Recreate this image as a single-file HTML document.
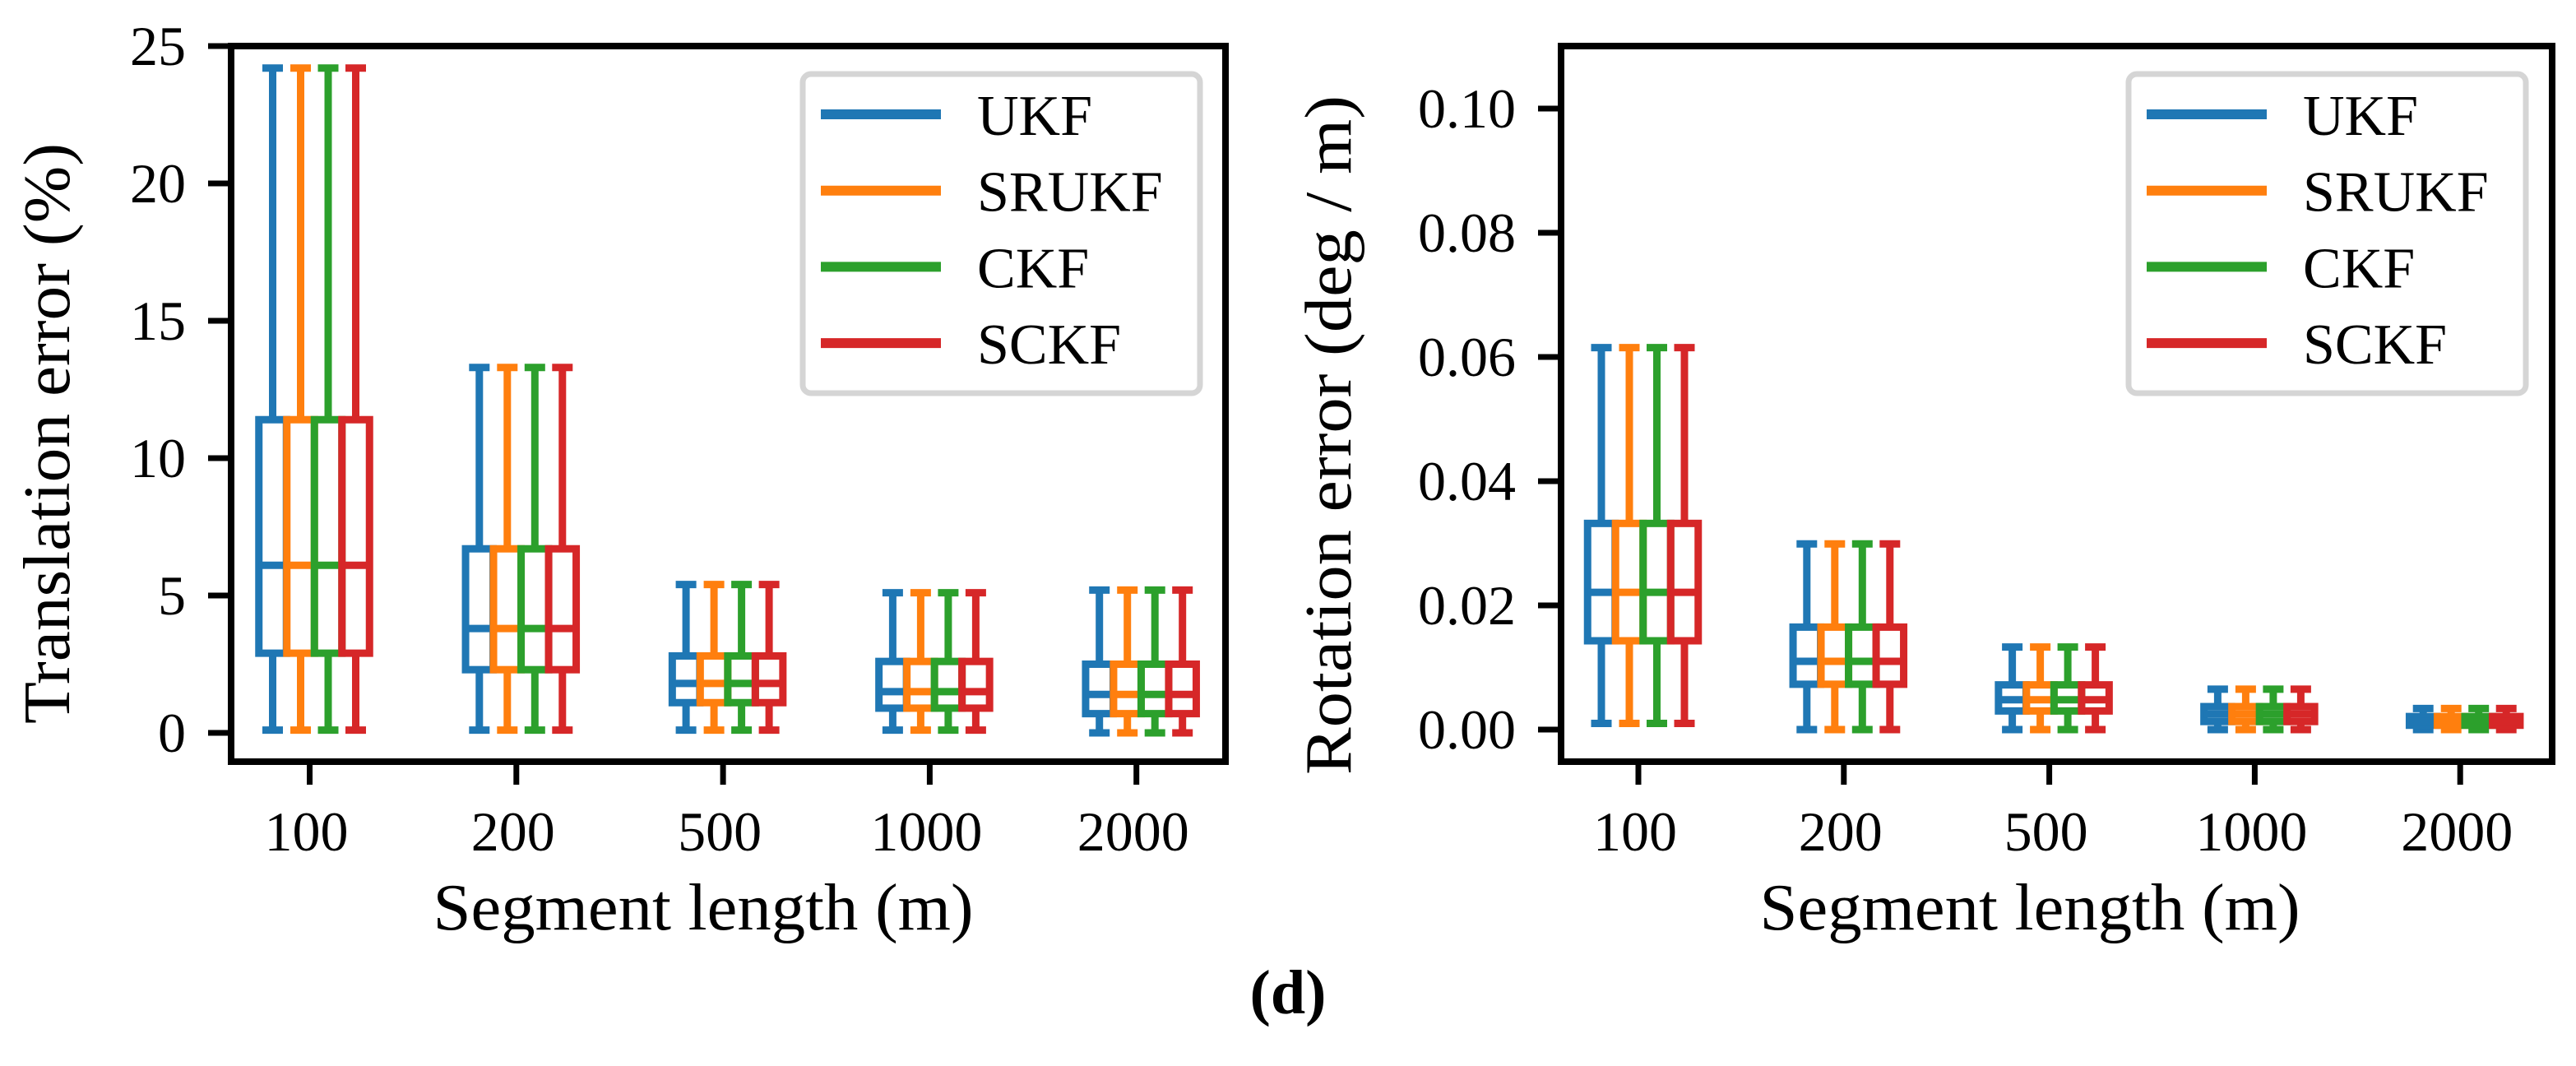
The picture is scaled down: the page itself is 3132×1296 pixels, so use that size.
<!DOCTYPE html>
<html><head><meta charset="utf-8"><style>
html,body{margin:0;padding:0;background:#fff;width:3132px;height:1296px;overflow:hidden}
text{font-family:"Liberation Serif",serif;fill:#000}
</style></head><body>
<svg id="fig" width="3132" height="1296" viewBox="0 0 3132 1296" xmlns="http://www.w3.org/2000/svg">
<g id="left"></g>
<g id="right"></g>
<text x="1566" y="1232" font-size="76" font-weight="bold" text-anchor="middle">(d)</text>
</svg>
<script>
const categories = ["100","200","500","1000","2000"];
const seriesNames = ["UKF","SRUKF","CKF","SCKF"];
const colors = ["#1f77b4","#ff7f0e","#2ca02c","#d62728"];
// translation error (%) per category
const transLow = [0.1,0.1,0.1,0.1,0.0];
const transQ1 = [2.9,2.3,1.1,0.9,0.7];
const transMed = [6.1,3.8,1.8,1.5,1.4];
const transQ3 = [11.4,6.7,2.8,2.6,2.5];
const transHigh = [24.2,13.3,5.4,5.1,5.2];
const transTicks = [0,5,10,15,20,25];
const transTickLabels = ["0","5","10","15","20","25"];
// rotation error (deg/m)
const rotLow = [0.001,0.0,0.0,0.0,0.0];
const rotQ1 = [0.0143,0.0073,0.0030,0.0013,0.0007];
const rotMed = [0.0221,0.0110,0.0048,0.0025,0.0013];
const rotQ3 = [0.0332,0.0165,0.0072,0.0037,0.0021];
const rotHigh = [0.0615,0.0299,0.0133,0.0065,0.0034];
const rotTicks = [0,0.02,0.04,0.06,0.08,0.10];
const rotTickLabels = ["0.00","0.02","0.04","0.06","0.08","0.10"];

const NS="http://www.w3.org/2000/svg";
function mk(tag,attrs,parent){const e=document.createElementNS(NS,tag);for(const k in attrs)e.setAttribute(k,attrs[k]);parent.appendChild(e);return e;}

function drawPanel(g,cfg){
  const yS=v=>cfg.y0+(v-cfg.vmin)*(cfg.y1-cfg.y0)/(cfg.vmax-cfg.vmin);
  const xS=i=>cfg.xt0+i*cfg.xstep;
  const offs=[-45,-11,22.5,56], bw=33.5, cw=25, lw=9;
  categories.forEach((c,i)=>{
    seriesNames.forEach((s,j)=>{
      const cx=xS(i)+offs[j];
      const bg=mk('g',{},g);
      
      
      const st={stroke:colors[j],'stroke-width':lw,fill:'none'};
      const lo=yS(cfg.low[i]),q1=yS(cfg.q1[i]),md=yS(cfg.med[i]),q3=yS(cfg.q3[i]),hi=yS(cfg.high[i]);
      mk('line',Object.assign({x1:cx,x2:cx,y1:lo,y2:q1},st),bg);
      mk('line',Object.assign({x1:cx,x2:cx,y1:q3,y2:hi},st),bg);
      mk('line',Object.assign({x1:cx-cw/2,x2:cx+cw/2,y1:lo,y2:lo},st),bg);
      mk('line',Object.assign({x1:cx-cw/2,x2:cx+cw/2,y1:hi,y2:hi},st),bg);
      mk('rect',Object.assign({x:cx-bw/2,y:q3,width:bw,height:Math.max(0,q1-q3),'stroke-linejoin':'miter'},st),bg);
      mk('line',Object.assign({x1:cx-bw/2,x2:cx+bw/2,y1:md,y2:md},st),bg);
    });
  });
  const fr=mk('rect',{x:cfg.fx0,y:56,width:cfg.fx1-cfg.fx0,height:870,fill:'none',stroke:'#000','stroke-width':8},g);
  
  
  cfg.ticks.forEach((t,k)=>{
    const y=yS(t);
    mk('line',{x1:cfg.fx0-28,x2:cfg.fx0,y1:y,y2:y,stroke:'#000','stroke-width':7},g);
    const tx=mk('text',{x:cfg.fx0-55,y:y+23,'font-size':68,'text-anchor':'end'},g);
    tx.textContent=cfg.tickLabels[k];
    
    
  });
  categories.forEach((c,i)=>{
    const x=xS(i);
    mk('line',{x1:x,x2:x,y1:926,y2:954,stroke:'#000','stroke-width':7},g);
    const tx=mk('text',{x:x-4,y:1034,'font-size':68,'text-anchor':'middle'},g);
    tx.textContent=c;
    
    
  });
  const xl=mk('text',{x:cfg.xlx,y:1130,'font-size':80,'text-anchor':'middle',textLength:657,lengthAdjust:'spacingAndGlyphs'},g);
  xl.textContent="Segment length (m)";
  
  
  const yl=mk('text',{x:0,y:0,'font-size':80,'text-anchor':'middle',textLength:cfg.ylLen,lengthAdjust:'spacingAndGlyphs',transform:`translate(${cfg.ylx},${cfg.yly}) rotate(-90)`},g);
  yl.textContent=cfg.ylabel;
  
  
  const lg=mk('g',{},g);
  
  
  mk('rect',{x:cfg.lgx,y:90,width:483,height:388,rx:10,fill:'#fff',stroke:'#d5d5d5','stroke-width':7},lg);
  seriesNames.forEach((s,j)=>{
    const y=139+j*92.7;
    const le=mk('g',{},lg);
    
    
    mk('line',{x1:cfg.lgx+22,x2:cfg.lgx+168,y1:y,y2:y,stroke:colors[j],'stroke-width':12},le);
    const t=mk('text',{x:cfg.lgx+212,y:y+25,'font-size':70},le);
    t.textContent=s;
  });
}
drawPanel(document.getElementById('left'),{
  low:transLow,q1:transQ1,med:transMed,q3:transQ3,high:transHigh,
  ticks:transTicks,tickLabels:transTickLabels,vmin:0,vmax:25,y0:891,y1:56,
  xt0:376.5,xstep:251.3,fx0:281,fx1:1490,xlx:855,ylx:84,yly:527,ylLen:706,
  ylabel:"Translation error (%)",lgx:976});
drawPanel(document.getElementById('right'),{
  low:rotLow,q1:rotQ1,med:rotMed,q3:rotQ3,high:rotHigh,
  ticks:rotTicks,tickLabels:rotTickLabels,vmin:0,vmax:0.10,y0:887,y1:132,
  xt0:1992,xstep:249.8,fx0:1898,fx1:3103,xlx:2468,ylx:1642,yly:529,ylLen:826,
  ylabel:"Rotation error (deg / m)",lgx:2588});
</script>
</body></html>
